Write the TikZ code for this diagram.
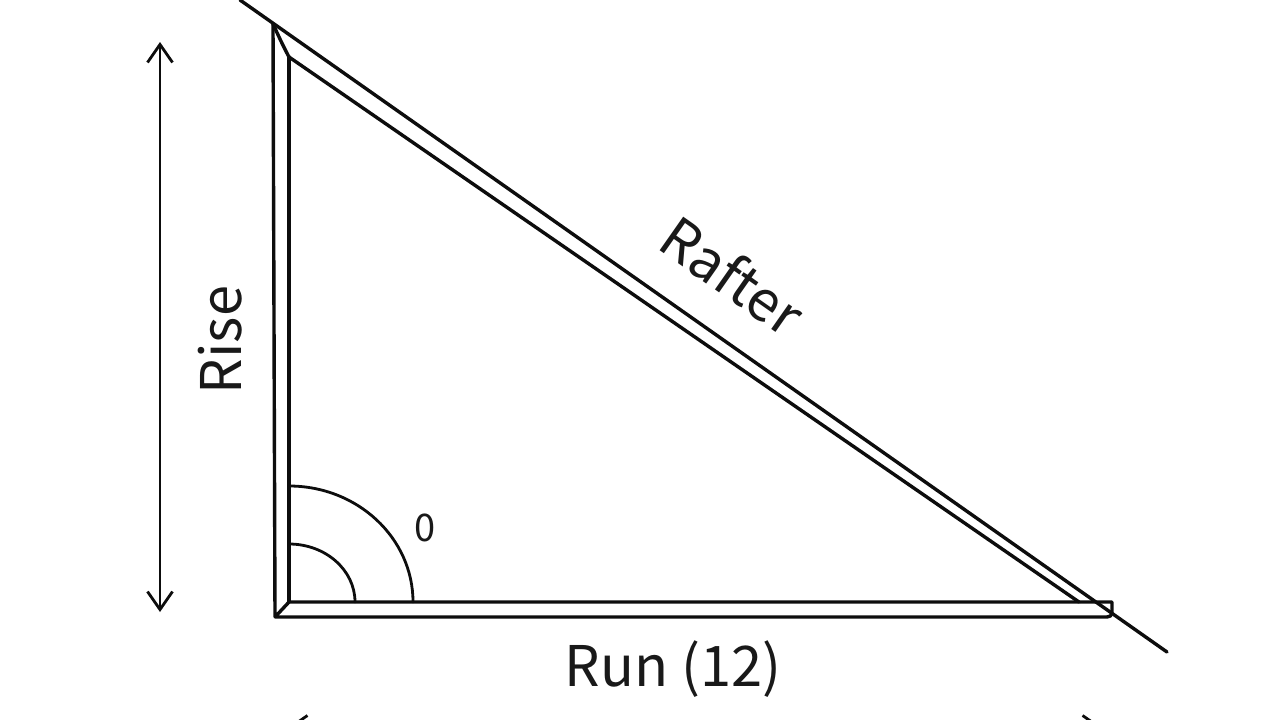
\documentclass[tikz,border=0pt]{standalone}
\usepackage{fontspec}
\setmainfont{Noto Sans CJK SC}
\usetikzlibrary{arrows.meta}
\tikzset{
  lin/.style={line width=3.4pt,draw=black!95,line cap=round,line join=round},
  thin lin/.style={line width=2.8pt,draw=black!95,line cap=round},
  dimarrow/.style={line width=2.8pt,draw=black!95,{Straight Barb[length=18pt,width=25pt,line width=2.8pt]}-{Straight Barb[length=18pt,width=25pt,line width=2.8pt]}},
  lab/.style={inner sep=0pt,text=black!90}
}
\begin{document}
\begin{tikzpicture}[x=1pt,y=1pt]
\useasboundingbox (0,-720) rectangle (1280,0);
\clip (0,-720) rectangle (1280,0);
\fill[white] (0,-720) rectangle (1280,0);
% corners
\coordinate (topO) at (273,-24);
\coordinate (topI) at (289,-57);
\coordinate (botO) at (275,-617);
\coordinate (botI) at (289,-602);
\coordinate (hypA) at (240,0);
\coordinate (hypB) at (1167,-652);
\coordinate (innerEnd) at (1079,-602);
\coordinate (rightTop) at (1112,-602);
\coordinate (rightBot) at (1112,-613);
\coordinate (botR) at (1107,-617);
% rafter line
\draw[lin] (hypA) -- (hypB);
% frame
\draw[lin] (topO) -- (botO) -- (botR) to[out=0,in=-90] (rightBot) -- (rightTop) -- (botI) -- (botO);
\draw[lin] (topI) -- (botI);
\draw[lin] (topO) to[out=-65,in=118] (topI) -- (innerEnd);
% angle arcs
\draw[thin lin] (413,-602) arc[start angle=0,end angle=90,x radius=124pt,y radius=116pt];
\draw[thin lin] (355,-602) arc[start angle=0,end angle=90,x radius=66pt,y radius=58pt];
% dimension arrows
\coordinate (riseT) at (160,-42);
\coordinate (riseB) at (160,-612);
\draw[dimarrow] (riseT) -- (riseB);
\coordinate (runL) at (287,-728);
\coordinate (runR) at (1103,-728);
\draw[dimarrow] (runL) -- (runR);
% labels
\node[lab,font=\fontsize{56}{56}\selectfont,rotate=90] (rise) at (220,-340) {Rise};
\node[lab,font=\fontsize{56}{56}\selectfont,rotate=-35] (rafter) at (733,-275) {Rafter};
\node[lab,font=\fontsize{56}{56}\selectfont] (run) at (673,-669) {Run (12)};
\node[lab,font=\fontsize{38}{38}\selectfont] (theta) at (425,-528) {0};
\end{tikzpicture}
\end{document}
